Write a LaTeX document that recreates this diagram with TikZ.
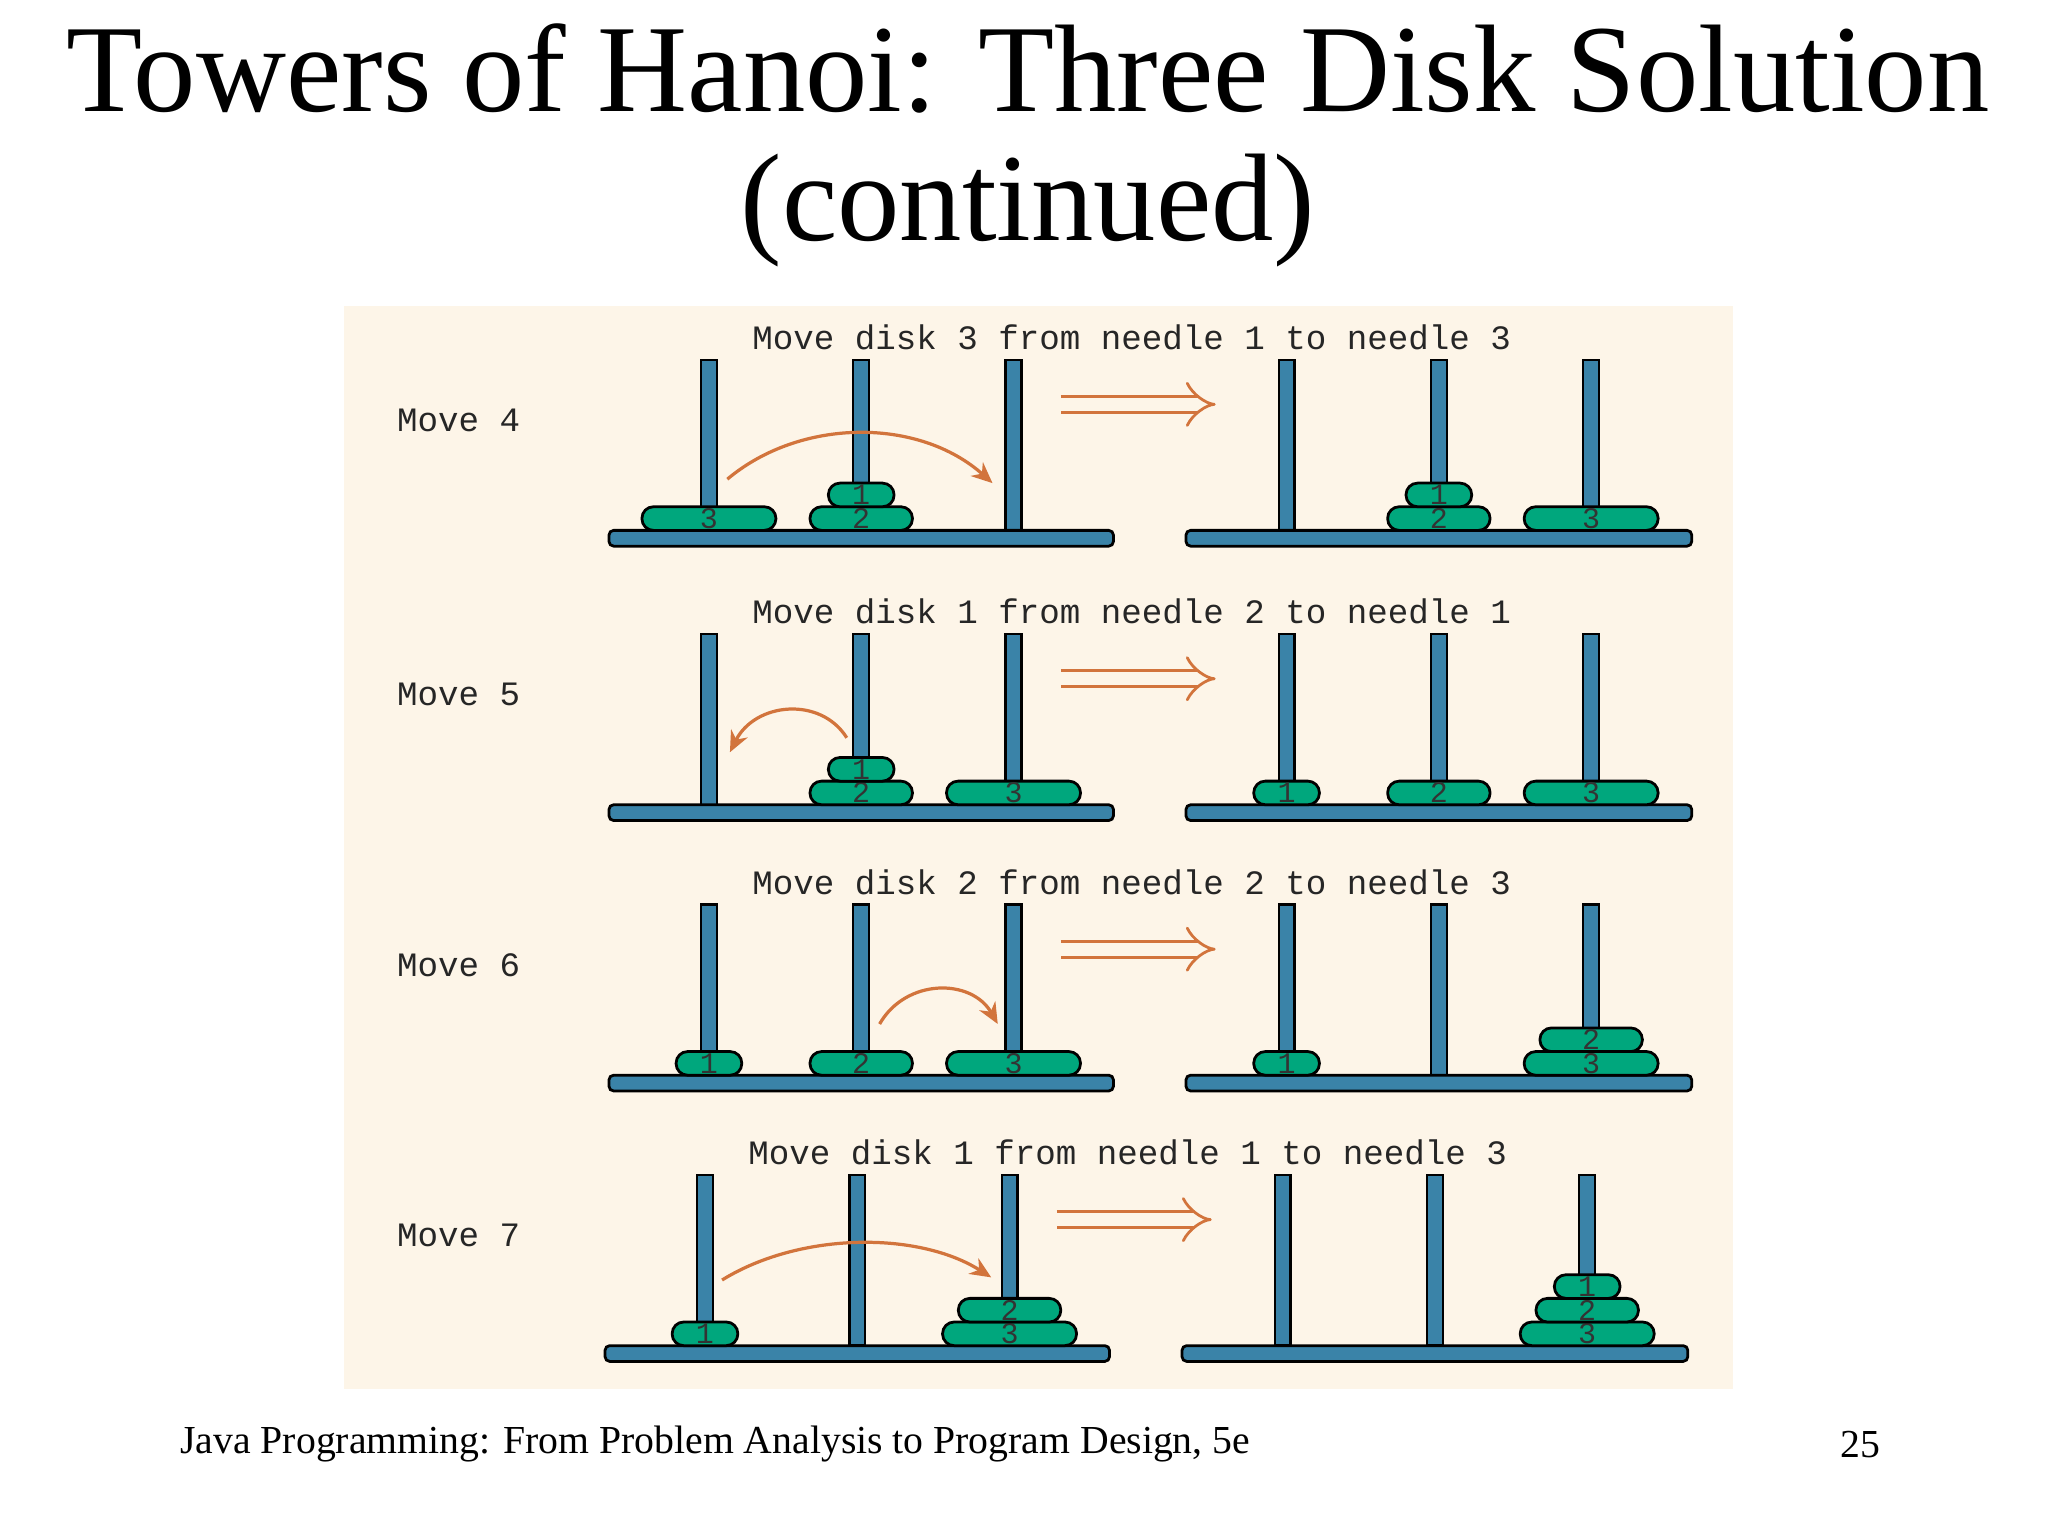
\documentclass[tikz,border=0pt]{standalone}
\usepackage{fontspec}
\setmainfont{Liberation Serif}
\newfontfamily\monofont{Liberation Mono}
\usetikzlibrary{positioning}
\usetikzlibrary{arrows.meta}

\definecolor{panelbg}{HTML}{FDF5E8}
\definecolor{needleblue}{HTML}{3A83A8}
\definecolor{diskgreen}{HTML}{00A77D}
\definecolor{moveorange}{HTML}{D2743C}

\begin{document}
\begin{tikzpicture}
[
x=0.01cm, y=-0.01cm,
needle/.style={draw=black, fill=needleblue, line width=0.5pt},
basebar/.style={rectangle, draw=black, fill=needleblue, line width=0.6pt, minimum height=0.12cm, inner sep=0, rounded corners=1pt},
disknode/.style={rectangle, draw=black, fill=diskgreen, line width=0.6pt, minimum height=0.18cm, inner sep=0, rounded corners=2.5pt, font=\monofont\fontsize{6.5}{6.5}\selectfont, text=black!80},
steptext/.style={font=\monofont\fontsize{7.4}{8}\selectfont, text=black!85},
movearc/.style={moveorange, line width=0.7pt, -{Stealth[length=1.6mm,width=1.4mm]}},
bigarrow/.style={moveorange, double=panelbg, double distance=0.1cm, line width=0.6pt, -{Implies[length=2.2mm]}}
]
\useasboundingbox (0,0) rectangle (1560,1170);
%Background
\fill[panelbg] (262,233) rectangle (1320,1058);

%Title and footer
\node[font=\fontsize{27}{30}\selectfont] (title1) at (783,52) {Towers of Hanoi: Three Disk Solution};
\node[font=\fontsize{27}{30}\selectfont] (title2) at (783,160) {(continued)};
\node[font=\fontsize{8.6}{10}\selectfont, anchor=west] (footer) at (125,1100) {Java Programming: From Problem Analysis to Program Design, 5e};
\node[font=\fontsize{8.6}{10}\selectfont] (page) at (1417,1100) {25};

%Rows
\foreach \row/\B/\dx/\mv/\txt/\lft/\rgt in {
1/410/0/4/{Move disk 3 from needle 1 to needle 3}/{3/1/0,2/2/0,1/2/1}/{2/2/0,1/2/1,3/3/0},
2/619/0/5/{Move disk 1 from needle 2 to needle 1}/{2/2/0,1/2/1,3/3/0}/{1/1/0,2/2/0,3/3/0},
3/825/0/6/{Move disk 2 from needle 2 to needle 3}/{1/1/0,2/2/0,3/3/0}/{1/1/0,3/3/0,2/3/1},
4/1031/-3/7/{Move disk 1 from needle 1 to needle 3}/{1/1/0,3/3/0,2/3/1}/{3/3/0,2/3/1,1/3/2}}
{
  \node[steptext, anchor=west] (mv\row) at (290,\B-90) {Move \mv};
  \node[steptext] (step\row) at (862+\dx,\B-153) {\txt};
  % needles
  \foreach \k in {1,2,3} {
    \draw[needle] (424+\k*116+\dx-6,\B-136) rectangle (424+\k*116+\dx+6,\B-6);
    \draw[needle] (864+\k*116+\dx-6,\B-136) rectangle (864+\k*116+\dx+6,\B-6);
  }
  \node[basebar, minimum width=3.84cm] (baseL\row) at (656+\dx,\B) {};
  \node[basebar, minimum width=3.85cm] (baseR\row) at (1096+\dx,\B) {};
  % disks
  \foreach \n/\k/\l in \lft {
    \pgfmathsetmacro{\w}{\n==1 ? 0.5 : (\n==2 ? 0.78 : 1.02)}
    \node[disknode, minimum width=\w cm] (dL\row-\n) at (424+\k*116+\dx,\B-15-18*\l) {\n};
  }
  \foreach \n/\k/\l in \rgt {
    \pgfmathsetmacro{\w}{\n==1 ? 0.5 : (\n==2 ? 0.78 : 1.02)}
    \node[disknode, minimum width=\w cm] (dR\row-\n) at (864+\k*116+\dx,\B-15-18*\l) {\n};
  }
  % big arrow
  \coordinate (ga\row) at (808+\dx,\B-102);
  \coordinate (gb\row) at (926+\dx,\B-102);
  \draw[bigarrow] (ga\row) -- (gb\row);
}

%Moves
\coordinate (a1) at (554,365); \coordinate (b1) at (756,368);
\draw[movearc] (a1) .. controls (610,318) and (700,318) .. (b1);
\coordinate (a2) at (645,562); \coordinate (b2) at (556,573);
\draw[movearc] (a2) .. controls (625,530) and (575,535) .. (b2);
\coordinate (a3) at (670,780); \coordinate (b3) at (760,780);
\draw[movearc] (a3) .. controls (690,745) and (740,745) .. (b3);
\coordinate (a4) at (550,975); \coordinate (b4) at (755,973);
\draw[movearc] (a4) .. controls (610,938) and (700,938) .. (b4);
\end{tikzpicture}
\end{document}
